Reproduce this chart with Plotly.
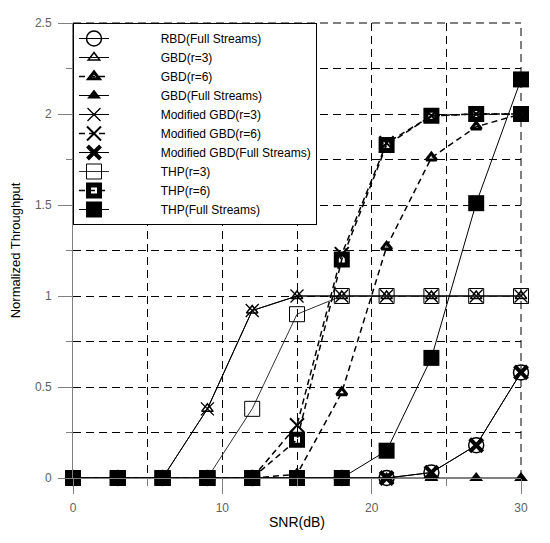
import plotly.graph_objects as go

snr = [0, 3, 6, 9, 12, 15, 18, 21, 24, 27, 30]

rbd_full = [0, 0, 0, 0, 0, 0, 0, 0.0, 0.03, 0.18, 0.58]
gbd_r3 = [0, 0, 0, 0.38, 0.92, 1.0, 1.0, 1.0, 1.0, 1.0, 1.0]
gbd_r6 = [0, 0, 0, 0, 0, 0.02, 0.47, 1.27, 1.76, 1.93, 2.0]
gbd_full = [0, 0, 0, 0, 0, 0, 0, 0, 0, 0, 0]
mgbd_r3 = [0, 0, 0, 0.38, 0.92, 1.0, 1.0, 1.0, 1.0, 1.0, 1.0]
mgbd_r6 = [0, 0, 0, 0, 0, 0.29, 1.23, 1.84, 1.99, 2.0, 2.0]
mgbd_full = [0, 0, 0, 0, 0, 0, 0, 0.0, 0.03, 0.18, 0.58]
thp_r3 = [0, 0, 0, 0, 0.38, 0.90, 1.0, 1.0, 1.0, 1.0, 1.0]
thp_r6 = [0, 0, 0, 0, 0, 0.21, 1.2, 1.83, 1.99, 2.0, 2.0]
thp_full = [0, 0, 0, 0, 0, 0, 0, 0.15, 0.66, 1.51, 2.19]

names = ["RBD(Full Streams)", "GBD(r=3)", "GBD(r=6)", "GBD(Full Streams)",
         "Modified GBD(r=3)", "Modified GBD(r=6)", "Modified GBD(Full Streams)",
         "THP(r=3)", "THP(r=6)", "THP(Full Streams)"]

series = [rbd_full, gbd_r3, gbd_r6, gbd_full, mgbd_r3, mgbd_r6, mgbd_full,
          thp_r3, thp_r6, thp_full]

styles = [
    dict(symbol="circle-open", size=15, mlw=1.5, dash="solid", lw=1, lc="#000"),
    dict(symbol="triangle-up-open", size=10, mlw=1.5, dash="solid", lw=1, lc="#000"),
    dict(symbol="triangle-up-open", size=9, mlw=3, dash="6px,4px", lw=1.5, lc="#000"),
    dict(symbol="triangle-up", size=12, mlw=0, dash="solid", lw=1, lc="#000"),
    dict(symbol="x-thin-open", size=13, mlw=1.3, dash="solid", lw=1, lc="#000"),
    dict(symbol="x-thin-open", size=14, mlw=2, dash="6px,4px", lw=1.5, lc="#000"),
    dict(symbol="x-thin-open", size=13, mlw=4, dash="solid", lw=1, lc="#000"),
    dict(symbol="square-open", size=15, mlw=1, dash="solid", lw=1, lc="#333"),
    dict(symbol="square-open", size=11, mlw=5, dash="6px,4px", lw=1.5, lc="#000"),
    dict(symbol="square", size=16, mlw=0, dash="solid", lw=1, lc="#000"),
]

pad = "\u00a0" * 14

fig = go.Figure()
for name, ys, st in zip(names, series, styles):
    fig.add_trace(go.Scatter(
        x=snr, y=ys, name=pad + name, mode="lines+markers", cliponaxis=False,
        line=dict(color=st["lc"], width=st["lw"], dash=st["dash"]),
        marker=dict(symbol=st["symbol"], size=st["size"], color="black",
                    line=dict(color="black", width=st["mlw"])),
    ))

grid_dash = "8px,5px"
# dashed grid lines along the top and right edges of the plot area
edge = dict(type="line", xref="paper", yref="paper", layer="below",
            line=dict(color="black", width=1, dash=grid_dash))
fig.add_shape(x0=0, x1=1, y0=1, y1=1, **edge)
fig.add_shape(x0=1, x1=1, y0=0, y1=1, **edge)

fig.update_layout(
    width=542, height=535,
    margin=dict(l=65, r=29, t=15, b=65, autoexpand=False),
    paper_bgcolor="white", plot_bgcolor="white",
    font=dict(family="Arial, Liberation Sans, sans-serif", color="black", size=12),
    showlegend=True,
    legend=dict(x=0, y=1, xref="paper", yref="paper", xanchor="left", yanchor="top",
                bgcolor="white", bordercolor="black", borderwidth=1,
                font=dict(size=12, color="black"),
                tracegroupgap=0),
    xaxis=dict(
        range=[0, 30], tickvals=[0, 10, 20, 30], ticks="outside", ticklen=15,
        tickcolor="#808080", showline=True, linecolor="#808080", linewidth=1,
        showgrid=True, gridcolor="black", griddash=grid_dash, gridwidth=1,
        zeroline=False, tickfont=dict(color="#606060", size=12), automargin=False,
        ticklabelstandoff=4,
        minor=dict(dtick=5, tick0=0, ticks="outside", ticklen=7, tickcolor="#808080",
                   showgrid=True, gridcolor="black", griddash=grid_dash, gridwidth=1),
        title=dict(text="SNR(dB)", font=dict(size=14, color="black"), standoff=2),
    ),
    yaxis=dict(
        range=[0, 2.5], tickvals=[0, 0.5, 1, 1.5, 2, 2.5],
        ticktext=["0", "0.5", "1", "1.5", "2", "2.5"], ticks="outside", ticklen=14,
        tickcolor="#808080", showline=True, linecolor="#808080", linewidth=1,
        showgrid=True, gridcolor="black", griddash=grid_dash, gridwidth=1,
        zeroline=False, tickfont=dict(color="#606060", size=12), automargin=False,
        ticklabelstandoff=4,
        minor=dict(dtick=0.25, tick0=0, ticks="outside", ticklen=6, tickcolor="#808080",
                   showgrid=True, gridcolor="black", griddash=grid_dash, gridwidth=1),
        title=dict(text="Normalized Throughput", font=dict(size=13, color="black"), standoff=16),
    ),
)

fig.write_html("out.html")
